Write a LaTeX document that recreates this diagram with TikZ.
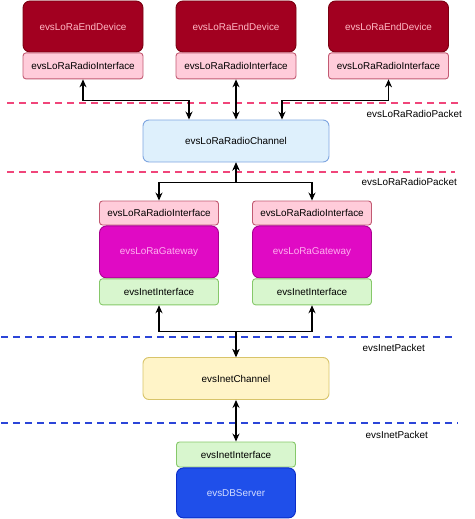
\documentclass[tikz,border=0pt]{standalone}
\usepackage{fontspec}
\setmainfont{Liberation Sans}
\usepackage{tikz}
\usetikzlibrary{arrows.meta}

\definecolor{devfill}{HTML}{A20020}
\definecolor{devline}{HTML}{7A0010}
\definecolor{devtext}{HTML}{FFB8C4}
\definecolor{radiofill}{HTML}{FFCCDA}
\definecolor{radioline}{HTML}{C25A72}
\definecolor{gwfill}{HTML}{E00AC4}
\definecolor{gwline}{HTML}{A8008F}
\definecolor{gwtext}{HTML}{FFB0F0}
\definecolor{inetfill}{HTML}{D8F6CE}
\definecolor{inetline}{HTML}{86C86A}
\definecolor{chanfill}{HTML}{DEF0FC}
\definecolor{chanline}{HTML}{7EA6E0}
\definecolor{ichanfill}{HTML}{FFF4C8}
\definecolor{ichanline}{HTML}{D8C46A}
\definecolor{dbfill}{HTML}{1F4FEA}
\definecolor{dbline}{HTML}{0A2BC8}
\definecolor{dbtext}{HTML}{D2DCFF}
\definecolor{radiodash}{HTML}{F0457A}
\definecolor{inetdash}{HTML}{2B45D8}

\begin{document}
\begin{tikzpicture}[x=1pt,y=-1pt,
  font=\fontsize{9.9}{11}\selectfont,
  box/.style={draw, line width=0.9pt, rounded corners=3pt, inner sep=0pt,
    minimum width=120pt, minimum height=26pt},
  core/.style={box, rounded corners=7pt, minimum height=51pt},
  enddev/.style={core, fill=devfill, draw=devline, text=devtext},
  gateway/.style={core, fill=gwfill, draw=gwline, text=gwtext, minimum height=52pt},
  dbserver/.style={core, fill=dbfill, draw=dbline, text=dbtext, minimum height=50pt},
  radioif/.style={box, fill=radiofill, draw=radioline},
  inetif/.style={box, fill=inetfill, draw=inetline},
  chan/.style={box, rounded corners=6pt, minimum width=186pt, minimum height=42pt},
  pkt/.style={line width=2.8pt, dash pattern=on 7pt off 5pt},
  pktlabel/.style={inner sep=0pt, anchor=east},
  link/.style={line width=1.3pt,
    {Stealth[length=8pt,width=7pt]}-{Stealth[length=8pt,width=7pt]}}]
\useasboundingbox (0,0) rectangle (474,519);
%% end devices
\node[enddev] (devA) at (83,26.5) {evsLoRaEndDevice};
\node[enddev] (devB) at (236,26.5) {evsLoRaEndDevice};
\node[enddev] (devC) at (388.5,26.5) {evsLoRaEndDevice};
\node[radioif, anchor=north] (rifA) at (devA.south) {evsLoRaRadioInterface};
\node[radioif, anchor=north] (rifB) at (devB.south) {evsLoRaRadioInterface};
\node[radioif, anchor=north] (rifC) at (devC.south) {evsLoRaRadioInterface};
%% radio channel
\draw[pkt, radiodash] (7,103) -- (458,103);
\node[pktlabel] (pktA) at (462,114) {evsLoRaRadioPacket};
\node[chan, fill=chanfill, draw=chanline] (chan) at (236,141) {evsLoRaRadioChannel};
\draw[pkt, radiodash] (7,172) -- (455,172);
\node[pktlabel] (pktB) at (457,182) {evsLoRaRadioPacket};
%% gateways
\node[radioif, minimum width=119pt, minimum height=24pt] (gwrA) at (159,213) {evsLoRaRadioInterface};
\node[radioif, minimum width=119pt, minimum height=24pt] (gwrB) at (312,213) {evsLoRaRadioInterface};
\node[gateway, minimum width=119pt, anchor=north] (gwA) at (gwrA.south) {evsLoRaGateway};
\node[gateway, minimum width=119pt, anchor=north] (gwB) at (gwrB.south) {evsLoRaGateway};
\node[inetif, minimum width=119pt, anchor=north] (iifA) at (gwA.south) {evsInetInterface};
\node[inetif, minimum width=119pt, anchor=north] (iifB) at (gwB.south) {evsInetInterface};
%% inet channel
\draw[pkt, inetdash] (1,337) -- (456,337);
\node[pktlabel] (pktC) at (425,348) {evsInetPacket};
\node[chan, fill=ichanfill, draw=ichanline] (ichan) at (236,378.5) {evsInetChannel};
\draw[pkt, inetdash] (1,423) -- (458,423);
\node[pktlabel] (pktD) at (428,435) {evsInetPacket};
%% server
\node[inetif, minimum width=119pt, minimum height=25pt] (dbif) at (236,454.5) {evsInetInterface};
\node[dbserver, minimum width=119pt, anchor=north] (db) at (dbif.south) {evsDBServer};
%% links
\draw[link] (rifA.south) -- ++(0,21) -| ([xshift=-47pt]chan.north);
\draw[link] (rifB.south) -- (chan.north);
\draw[link] (rifC.south) -- ++(0,21) -| ([xshift=46pt]chan.north);
\draw[link] (chan.south) -- ++(0,20) -| (gwrA.north);
\draw[link] (chan.south) -- ++(0,20) -| (gwrB.north);
\draw[link] (iifA.south) -- ++(0,26) -| (ichan.north);
\draw[link] (iifB.south) -- ++(0,26) -| (ichan.north);
\draw[link] (ichan.south) -- (dbif.north);
\end{tikzpicture}
\end{document}
